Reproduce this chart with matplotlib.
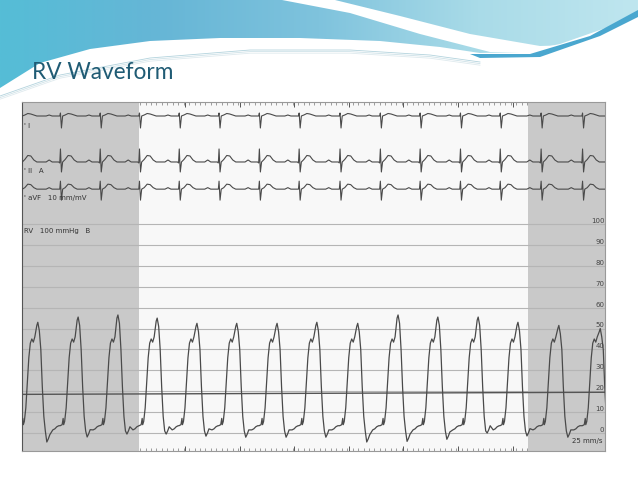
import numpy as np
import matplotlib
matplotlib.use("Agg")
import matplotlib.pyplot as plt
from matplotlib.patches import Polygon
from matplotlib.colors import LinearSegmentedColormap

# beat timing (s from the left edge of the strip)
qrs_t = [-0.04, 0.70, 1.43, 2.15, 2.88, 3.61, 4.35, 5.08, 5.83, 6.57, 7.30, 8.04, 8.77, 9.52, 10.28]

# RV pressure per beat (mmHg)
rv_peak = [53, 55.5, 56.5, 55, 52.5, 52.5, 52.5, 53, 52.5, 56.5, 55.5, 55.5, 53, 51.5, 50]
rv_trough = [-4.3, -1.9, -0.5, -0.5, -1.5, -2, -2, -2, -4.3, -4, -3, 0, -1.4, -2, -2]

# one RV beat: offset after QRS (px at 54.5 px/s) and pressure; 'P' = peak, 'T' = trough
rv_dt_px = [0, 2, 3, 3.5, 4.5, 6, 7.5, 9, 10.5, 12, 13.5, 15, 17, 18, 19.5, 21, 22.5, 24, 25.5, 27, 28.5, 30, 33, 35, 37, 39]
rv_shape = [3.5, 4, 7, 4, 5.5, 12, 24, 36, 43, 45, 43.5, 46, 'P-1.5', 'P', 'P-4', 40, 22, 8, 1, 'T', 'T+1.5', 'T+3.5', 1.5, 2, 3, 3.5]

# ECG beat shapes: offset (px) and deflection (px up)
ecg_dt_px = [-14, -11, -8, -1.5, -0.4, 0.3, 1.3, 2.5, 5, 8, 11, 14, 17]
lead_I = [0, 1, 0, 0, 0, 3, -12, 0, 1, 2.5, 2, 1, 0]
lead_II = [0, 2, 0, 0, -1, 13, -10, 0, 2.5, 6.5, 6, 2, 0]
lead_aVF = [0, 1.5, 0, 0, 0, 8, -11, 0, 1.5, 5, 4.5, 1.5, 0]

ecg_base = {'I': 151.7, 'II': 129.7, 'aVF': 116.7}
ecg_labels = ["' I", "' II   A", "' aVF   10 mm/mV"]
ecg_label_y = [146.9, 125.4, 112.4]
rv_ticks = [0, 10, 20, 30, 40, 50, 60, 70, 80, 90, 100]

PX_S = 54.5      # px per second
PX_MM = 2.09     # px per mmHg
T_END = 583 / PX_S
Y_LO, Y_HI = -8.6, 158.4
GRAY_L, GRAY_R = (139 - 22) / PX_S, (528 - 22) / PX_S
ink = '#4a4a4a'

fig = plt.figure(figsize=(6.38, 4.79), dpi=100)
fig.patch.set_facecolor('white')

# ---- slide decoration ----
bg = fig.add_axes([0, 0, 1, 1])
bg.set_xlim(0, 638)
bg.set_ylim(479, 0)
bg.axis('off')

blue = [(0, 0), (638, 0), (638, 16), (600, 30), (560, 44), (520, 52), (480, 53),
        (440, 47), (380, 41), (300, 38), (220, 38), (150, 41), (90, 49), (40, 63), (0, 88)]
cmap = LinearSegmentedColormap.from_list('sw', ['#55bdd6', '#66b6d6', '#7fc3dd', '#a9dbe8', '#bfe6ef'])
grad = np.linspace(0, 1, 256).reshape(1, -1)
im = bg.imshow(grad, cmap=cmap, extent=(0, 638, 100, 0), aspect='auto', zorder=1)
poly = Polygon(blue, closed=True, transform=bg.transData, facecolor='none', edgecolor='none')
bg.add_patch(poly)
im.set_clip_path(poly)

white_swoosh = [(282, 0), (335, 0), (400, 16), (470, 34), (540, 46), (610, 44),
                (560, 52), (490, 52), (420, 34), (350, 13)]
bg.add_patch(Polygon(white_swoosh, closed=True, facecolor='white', edgecolor='none', zorder=2))
dark_band = [(470, 54), (530, 54), (590, 36), (638, 10), (638, 17), (600, 36), (540, 57), (480, 58)]
bg.add_patch(Polygon(dark_band, closed=True, facecolor='#4aa7cf', edgecolor='none', zorder=2))
for off, c in [(0, '#b3d3dd'), (4, '#cfe2e8'), (8, '#dfeaee')]:
    xs = np.array([0, 60, 150, 250, 350, 430, 480])
    ys = np.array([96, 75, 58, 50, 50, 55, 62]) + off * 0.4
    bg.plot(xs, ys, color=c, lw=0.6, zorder=2)

bg.text(32, 79, 'RV Waveform', fontsize=16.3, color='#1f5b74', family='Lato', va='baseline', zorder=3)

# ---- recording strip ----
ax = fig.add_axes([22 / 638, 1 - 451 / 479, 583 / 638, 349 / 479])
ax.set_xlim(0, T_END)
ax.set_ylim(Y_LO, Y_HI)
ax.set_facecolor('#f8f8f8')
ax.axvspan(0, GRAY_L, color='#c9c9c9', lw=0, zorder=0)
ax.axvspan(GRAY_R, T_END, color='#c9c9c9', lw=0, zorder=0)
for s in ax.spines.values():
    s.set_color('#999999')
    s.set_linewidth(0.8)
ax.spines['left'].set_color('#555555')
ax.set_xticks([])
ax.set_yticks([])

# pressure grid and scale
for v in rv_ticks:
    ax.axhline(v, color='#b5b5b5', lw=0.8, zorder=1)
    ax.text(T_END - 0.01, v + 1.5, str(v), ha='right', va='center', fontsize=5, color='#444444', zorder=4)
ax.plot([0, T_END], [18.5, 19.5], color='#555555', lw=1.0, zorder=2)

# timing rulers in the white part
minor = np.arange(GRAY_L + 0.02, GRAY_R, 0.1)
ax.vlines(minor, Y_HI - 1.3, Y_HI, color='#777777', lw=0.5)
ax.vlines(minor, Y_LO, Y_LO + 1.3, color='#777777', lw=0.5)
major = np.arange(3, 10, 1.0)
ax.vlines(major, Y_HI - 2.6, Y_HI, color='#555555', lw=0.7)
ax.vlines(major, Y_LO, Y_LO + 2.6, color='#555555', lw=0.7)

# RV pressure trace
t_rv, p_rv = [], []
for t0, pk, tr in zip(qrs_t, rv_peak, rv_trough):
    for dt, v in zip(rv_dt_px, rv_shape):
        if isinstance(v, str):
            val = (pk if v[0] == 'P' else tr) + (float(v[1:]) if len(v) > 1 else 0)
        else:
            val = v
        t_rv.append(t0 + dt / PX_S)
        p_rv.append(val)
ax.plot(t_rv, p_rv, color=ink, lw=0.9, zorder=3)

# ECG traces
for name, shape in [('I', lead_I), ('II', lead_II), ('aVF', lead_aVF)]:
    tt, yy = [0], [ecg_base[name]]
    for t0 in qrs_t:
        for dt, a in zip(ecg_dt_px, shape):
            tt.append(t0 + dt / PX_S)
            yy.append(ecg_base[name] + a / PX_MM)
    tt.append(T_END)
    yy.append(ecg_base[name])
    ax.plot(tt, yy, color=ink, lw=0.8, zorder=3)

for lab, y in zip(ecg_labels, ecg_label_y):
    ax.text(0.03, y, lab, fontsize=5, color='#333333', va='center', zorder=4)
ax.text(0.03, 96.7, 'RV   100 mmHg   B', fontsize=5, color='#333333', va='center', zorder=4)
ax.text(T_END - 0.05, -4.0, '25 mm/s', fontsize=5, color='#333333', ha='right', va='center', zorder=4)

fig.savefig('out.png', dpi=100)
